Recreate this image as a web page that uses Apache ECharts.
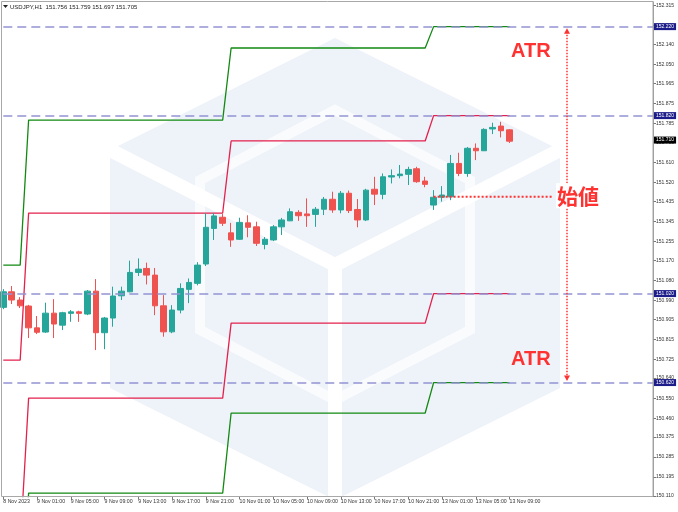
<!DOCTYPE html>
<html><head><meta charset="utf-8">
<script src="https://cdn.jsdelivr.net/npm/echarts@6/dist/echarts.min.js"></script>
<style>html,body{margin:0;padding:0;background:#fff}#c{width:678px;height:512px}</style>
</head><body><div id="c"></div><script>
// ---- data ----
const sessions = [['8 Nov',21,23],['9 Nov',0,23],['10 Nov',0,23],['13 Nov',0,9]];
const opens  = [150.958,151.028,150.991,150.964,150.866,150.847,150.932,150.878,150.931,150.938,
                150.928,151.031,150.844,150.910,151.010,151.028,151.115,151.133,151.103,150.965,
                150.848,150.946,151.039,151.066,151.153,151.313,151.363,151.293,151.264,151.338,
                151.320,151.241,151.261,151.320,151.347,151.385,151.378,151.376,151.399,151.444,
                151.396,151.471,151.398,151.351,151.489,151.466,151.544,151.550,151.556,151.581,
                151.526,151.418,151.453,151.455,151.605,151.560,151.673,151.662,151.760,151.773,151.756];
const closes = [151.028,150.991,150.965,150.866,150.846,150.932,150.883,150.934,150.938,150.931,
                151.031,150.844,150.910,151.009,151.031,151.115,151.130,151.103,150.965,150.848,
                150.946,151.043,151.070,151.148,151.318,151.369,151.336,151.261,151.340,151.318,
                151.246,151.264,151.320,151.351,151.388,151.370,151.370,151.399,151.444,151.396,
                151.471,151.393,151.351,151.485,151.467,151.545,151.550,151.557,151.578,151.523,
                151.511,151.453,151.463,151.605,151.560,151.673,151.662,151.758,151.767,151.752,151.705];
const lows   = [150.950,150.973,150.955,150.820,150.838,150.843,150.820,150.856,150.893,150.893,
                150.923,150.766,150.770,150.871,150.991,151.026,151.099,151.061,150.923,150.826,
                150.842,150.931,150.977,151.057,151.144,151.261,151.324,151.230,151.261,151.273,
                151.234,151.219,151.256,151.283,151.346,151.347,151.320,151.320,151.373,151.383,
                151.381,151.382,151.318,151.346,151.418,151.444,151.515,151.538,151.508,151.518,
                151.498,151.396,151.433,151.440,151.548,151.545,151.620,151.661,151.737,151.722,151.697];
const highs  = [151.040,151.054,151.004,150.969,150.919,150.979,150.995,150.938,150.946,150.943,
                151.036,151.085,150.915,151.051,151.051,151.168,151.178,151.159,151.135,151.013,
                150.968,151.066,151.088,151.161,151.381,151.382,151.378,151.338,151.361,151.372,
                151.343,151.274,151.328,151.360,151.403,151.395,151.448,151.409,151.454,151.478,
                151.481,151.483,151.445,151.491,151.545,151.560,151.578,151.598,151.590,151.590,
                151.545,151.485,151.503,151.643,151.653,151.679,151.695,151.763,151.788,151.792,151.759];
const dayUpperOuter = [151.148, 151.800, 152.124, 152.220];
const dayUpperInner = [150.721, 151.382, 151.706, 151.820];
const dayLowerInner = [149.890, 150.550, 150.887, 151.020];
const dayLowerOuter = [149.470, 150.123, 150.483, 150.620];
const levelLines = [152.220, 151.820, 151.020, 150.620];
const lastPrice = 151.705;
const dayOpen = 151.455;
const yTicks = [152.315,152.225,152.140,152.050,151.965,151.875,151.785,151.700,151.610,151.520,
                151.435,151.345,151.255,151.170,151.080,150.990,150.905,150.815,150.725,150.640,
                150.550,150.460,150.375,150.285,150.195,150.110];
const xTickLabels = ['8 Nov 2023','9 Nov 01:00','9 Nov 05:00','9 Nov 09:00','9 Nov 13:00','9 Nov 17:00',
                '9 Nov 21:00','10 Nov 01:00','10 Nov 05:00','10 Nov 09:00','10 Nov 13:00','10 Nov 17:00',
                '10 Nov 21:00','13 Nov 01:00','13 Nov 05:00','13 Nov 09:00'];
const title = 'USDJPY,H1  151.756 151.759 151.697 151.705';

// ---- build ----
const categories = [], dayOf = [];
sessions.forEach((s, d) => { for (let h = s[1]; h <= s[2]; h++) { categories.push(s[0] + ' ' + String(h).padStart(2,'0') + ':00'); dayOf.push(d); } });
const nBars = categories.length;
for (let i = 0; i < 17; i++) categories.push('pad' + i);
const labelOf = {};
xTickLabels.forEach((t, j) => { labelOf[categories[j * 4]] = t; });
const candles = opens.map((o, i) => [o, closes[i], lows[i], highs[i]]);
const perBar = arr => dayOf.map(d => arr[d]);
const FONT = "'Liberation Sans Narrow','Liberation Sans',Arial,sans-serif";
const RED = '#ff3232';
const tickShow = (i, v) => (labelOf[v] !== undefined) || (i % 4 === 0 && i < nBars);

const chart = echarts.init(document.getElementById('c'), null, {renderer: 'canvas'});
const bandLine = (data, color) => ({type: 'line', data, symbol: 'none', silent: true, animation: false,
  lineStyle: {color, width: 1.3}, z: 3});

chart.setOption({
  backgroundColor: '#fff',
  animation: false,
  grid: {left: 3.3, right: 25, top: 2, bottom: 15.5},
  xAxis: {
    type: 'category', data: categories, boundaryGap: false,
    axisLine: {show: true, lineStyle: {color: '#999', width: 1}},
    axisTick: {show: true, interval: tickShow, length: 3, lineStyle: {color: '#777'}},
    axisLabel: {interval: tickShow, formatter: v => labelOf[v] || '', align: 'left', hideOverlap: false,
      showMaxLabel: true, fontSize: 5.2, color: '#333', margin: 3, fontFamily: FONT},
    splitLine: {show: false}
  },
  yAxis: {
    type: 'value', position: 'right', min: 150.1078, max: 152.3307, scale: true,
    axisLine: {show: true, lineStyle: {color: '#999', width: 1}},
    axisTick: {show: true, length: 3, customValues: yTicks, lineStyle: {color: '#777'}},
    axisLabel: {customValues: yTicks, formatter: v => v.toFixed(3), fontSize: 5, color: '#333', margin: 3, fontFamily: FONT},
    splitLine: {show: false}
  },
  series: [
    bandLine(perBar(dayUpperOuter), '#128a12'),
    bandLine(perBar(dayUpperInner), '#e3214c'),
    bandLine(perBar(dayLowerInner), '#e3214c'),
    bandLine(perBar(dayLowerOuter), '#128a12'),
    {
      type: 'candlestick', data: candles, barWidth: 6, clip: false, z: 4,
      itemStyle: {color: '#26a69a', color0: '#ef5350', borderColor: '#26a69a', borderColor0: '#ef5350', borderWidth: 1},
      markLine: {
        symbol: ['none', 'none'], silent: true, animation: false, z: 6,
        lineStyle: {color: '#9494d4', type: [9, 5], width: 1.5},
        label: {position: 'end', distance: 1, formatter: p => p.value.toFixed(3), backgroundColor: '#1c1c8a',
          color: '#fff', fontSize: 5, padding: [1, 2, 1, 2], fontFamily: FONT},
        data: levelLines.map(v => ({yAxis: v})).concat([{yAxis: lastPrice,
          lineStyle: {color: 'rgba(0,0,0,0)', width: 0.1},
          label: {backgroundColor: '#000', color: '#fff'}}])
      }
    }
  ]
});

// ---- annotations (positions derived from the axes) ----
const yPx = v => chart.convertToPixel({yAxisIndex: 0}, v);
const xPx = i => chart.convertToPixel({xAxisIndex: 0}, i);
const yTop = yPx(levelLines[0]), yBot = yPx(levelLines[3]), yOpen = yPx(dayOpen);
const xOpen = xPx(nBars - 10);
const ax = 567;
chart.setOption({
  graphic: [
    {type: 'polygon', z: -10, silent: true, shape: {points: [[335,38],[560,150],[560,388],[335,500],[110,388],[110,150]]},
      style: {fill: '#eef2f9'}},
    {type: 'polyline', z: -9, silent: true, shape: {points: [[110,150],[335,265],[560,150]]}, style: {stroke: '#fff', lineWidth: 14, fill: null}},
    {type: 'polyline', z: -9, silent: true, shape: {points: [[335,265],[335,500]]}, style: {stroke: '#fff', lineWidth: 14, fill: null}},
    {type: 'polygon', z: -9, silent: true, shape: {points: [[335,110],[470,180],[470,330],[335,400],[200,330],[200,180]]},
      style: {fill: null, stroke: '#fff', lineWidth: 10, opacity: 0.7}},
    {type: 'rect', z: 50, silent: true, shape: {x: 1.5, y: 1.5, width: 651.5, height: 495}, style: {fill: null, stroke: '#a8a8a8', lineWidth: 1}},
    {type: 'polygon', z: 50, shape: {points: [[3,5],[8,5],[5.5,8]]}, style: {fill: '#222'}},
    {type: 'text', z: 50, x: 10, y: 7, style: {text: title, fontSize: 6, fontFamily: FONT, fill: '#222', verticalAlign: 'middle'}},
    {type: 'line', z: 40, shape: {x1: xOpen, y1: yOpen, x2: 553, y2: yOpen}, style: {stroke: RED, lineWidth: 2, lineDash: [2, 2]}},
    {type: 'line', z: 40, shape: {x1: ax, y1: yTop + 5, x2: ax, y2: yBot - 5}, style: {stroke: RED, lineWidth: 1.5, lineDash: [1.5, 1.5]}},
    {type: 'polygon', z: 40, shape: {points: [[ax, yTop + 1.5], [ax - 3, yTop + 7], [ax + 3, yTop + 7]]}, style: {fill: RED}},
    {type: 'polygon', z: 40, shape: {points: [[ax, yBot - 1.5], [ax - 3, yBot - 7], [ax + 3, yBot - 7]]}, style: {fill: RED}},
    {type: 'text', z: 41, x: 511, y: yTop + 25, style: {text: 'ATR', fontSize: 20, fontWeight: 'bold', fontFamily: "'Liberation Sans',Arial,sans-serif", fill: RED, verticalAlign: 'middle'}},
    {type: 'text', z: 41, x: 511, y: yBot - 23, style: {text: 'ATR', fontSize: 20, fontWeight: 'bold', fontFamily: "'Liberation Sans',Arial,sans-serif", fill: RED, verticalAlign: 'middle'}},
    {type: 'text', z: 42, x: 556, y: yOpen - 1, style: {text: '始値', fontSize: 21, fontWeight: 'bold', fontFamily: "'Noto Sans CJK JP',sans-serif", fill: RED,
      verticalAlign: 'middle', backgroundColor: '#fff', padding: [2, 1, 2, 1]}}
  ]
});
</script></body></html>
